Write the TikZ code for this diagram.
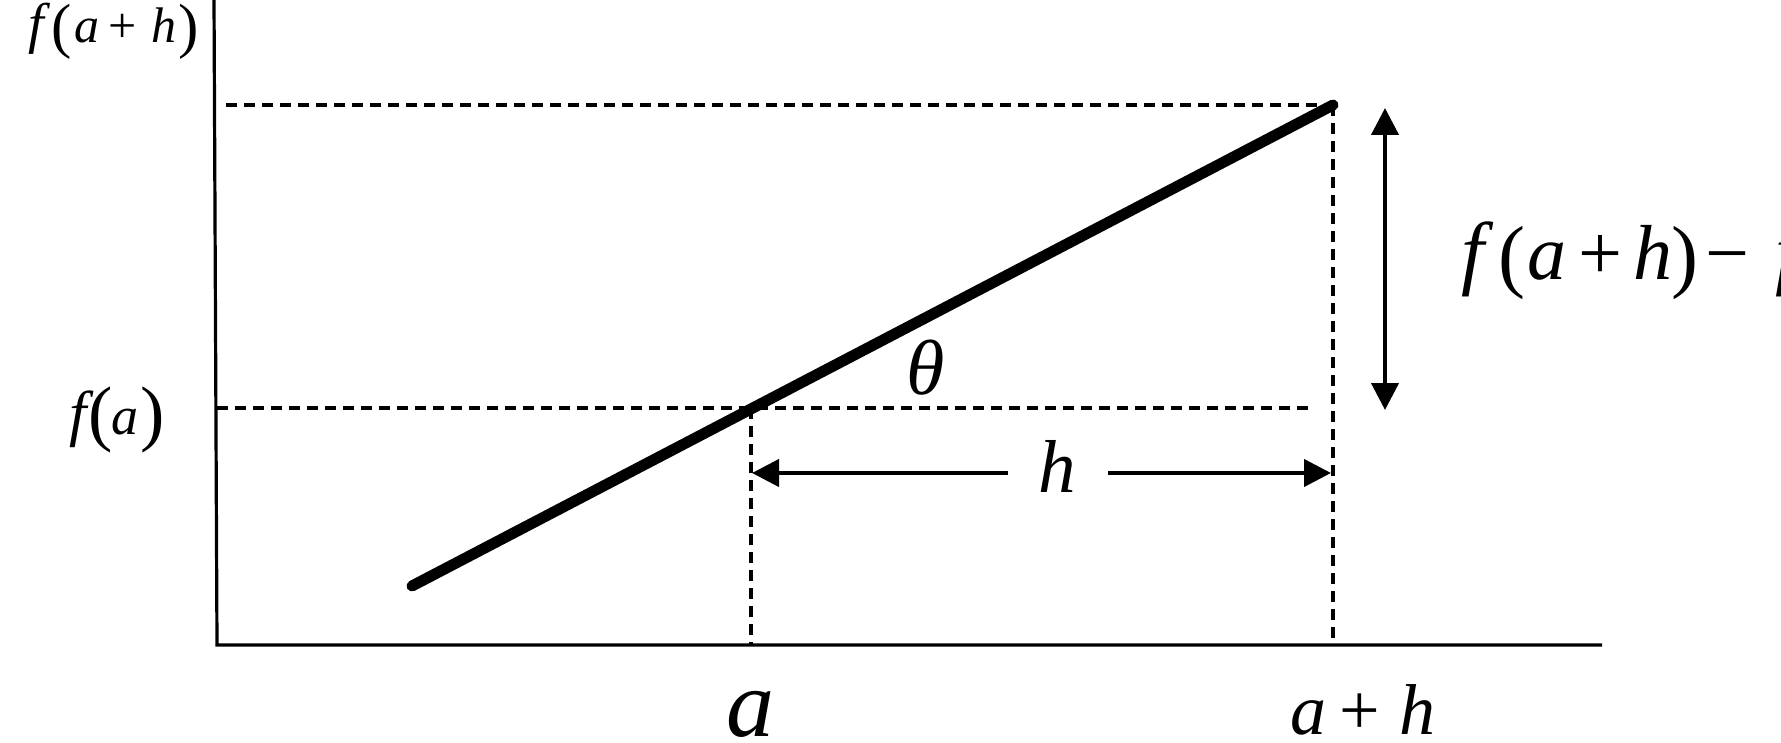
\documentclass[tikz,border=0pt]{standalone}
\usepackage{fontspec}
\setmainfont{Liberation Serif}[ItalicFont={Liberation Serif Italic}]
\usetikzlibrary{arrows.meta}
\begin{document}
\begin{tikzpicture}[x=1pt,y=-1pt,
  axisline/.style={line width=3.2pt, line cap=butt},
  guide/.style={line width=3.2pt, dash pattern=on 11pt off 7pt},
  secant/.style={line width=11pt, line cap=round},
  dimarrow/.style={line width=4.2pt, -{Triangle[length=27pt,width=27pt]}},
  dimboth/.style={line width=4.2pt, {Triangle[length=27pt,width=27pt]}-{Triangle[length=27pt,width=27pt]}},
  lbl/.style={inner sep=0pt, outer sep=0pt, anchor=base west},
  clbl/.style={inner sep=0pt, outer sep=0pt, anchor=base}]
\useasboundingbox (0,0) rectangle (1781,743);
\clip (0,0) rectangle (1781,743);
\fill[white] (0,0) rectangle (1781,743);
% axes
\coordinate (ytop) at (214,-2);
\coordinate (orig) at (217,645);
\coordinate (xend) at (1602,645);
\draw[axisline] (ytop) -- (orig) -- (xend);
% guide points
\coordinate (ua) at (226,105);
\coordinate (P) at (1333,105);
\coordinate (la) at (217,408);
\coordinate (lb) at (1313,408);
\coordinate (Q) at (751,408);
\coordinate (Qb) at (751,645);
\coordinate (Pb) at (1333,645);
\draw[guide] (ua) -- (P);
\draw[guide] (la) -- (lb);
\draw[guide] (Q) -- (Qb);
\draw[guide] (P) -- (Pb);
% secant line
\coordinate (S) at (412,586);
\draw[secant] (S) -- (P);
% vertical difference arrow
\coordinate (vt) at (1385,108);
\coordinate (vb) at (1385,410);
\draw[dimboth] (vt) -- (vb);
% h arrows
\coordinate (hl) at (1008,473);
\coordinate (hL) at (752,473);
\coordinate (hr) at (1108,473);
\coordinate (hR) at (1331,473);
\draw[dimarrow] (hl) -- (hL);
\draw[dimarrow] (hr) -- (hR);
% labels
\node[lbl] (lfah) at (28.2,43) {\fontsize{50}{50}\selectfont\itshape{\fontsize{56}{56}\selectfont f}\kern8pt\raisebox{-4pt}{\fontsize{61}{61}\selectfont\upshape(}\kern2pt a\kern9.3pt\textup{+}\kern14.8pt h\kern1.7pt\raisebox{-4pt}{\fontsize{61}{61}\selectfont\upshape)}};
\node[lbl] (lfa) at (69.1,434) {\fontsize{54}{54}\selectfont\itshape{\fontsize{62}{62}\selectfont f}\kern2.2pt\raisebox{-3pt}{\fontsize{73}{73}\selectfont\upshape(}\kern-1.8pt a\kern2pt\raisebox{-3pt}{\fontsize{73}{73}\selectfont\upshape)}};
\node[lbl] (ldiff) at (1461,280) {\fontsize{78}{78}\selectfont\itshape{\fontsize{82}{82}\selectfont f}\kern15.2pt\raisebox{-3pt}{\fontsize{81}{81}\selectfont\upshape(}\kern1.7pt a\kern12pt\textup{+}\kern10.7pt h\kern-0.7pt\raisebox{-3pt}{\fontsize{81}{81}\selectfont\upshape)}\kern7pt\textup{−}\kern25.8pt{\fontsize{82}{82}\selectfont f}};
\node[clbl] (ltheta) at (926,394) {\fontsize{78}{78}\selectfont\itshape θ};
\node[clbl] (lh) at (1057,492) {\fontsize{75}{75}\selectfont\itshape h};
\node[clbl] (la) at (750,736) {\fontsize{96}{96}\selectfont\itshape a};
\node[lbl] (lah) at (1290.8,734) {\fontsize{72}{72}\selectfont\itshape a\kern13pt\textup{+}\kern19pt h};
\end{tikzpicture}
\end{document}
